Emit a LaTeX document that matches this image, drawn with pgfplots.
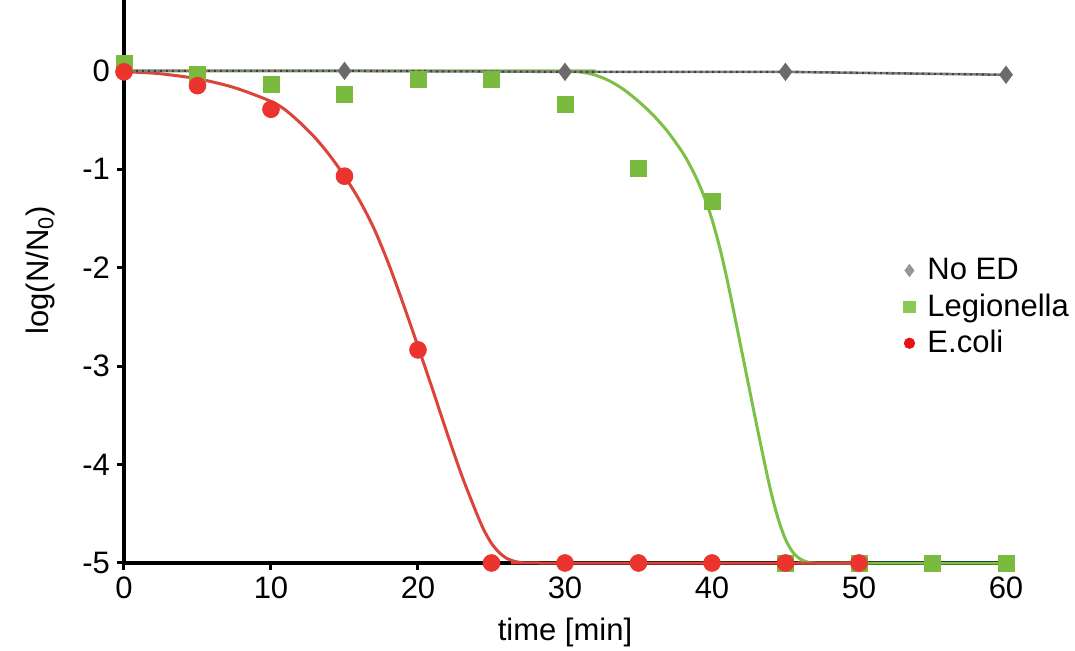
\documentclass[border=0pt]{standalone}
\usepackage{fontspec}
\setmainfont{Liberation Sans}
\usepackage{pgfplots}
\pgfplotsset{compat=1.18}

\definecolor{ecoliM}{RGB}{236,52,46}
\definecolor{ecoliL}{RGB}{218,68,58}
\definecolor{legioM}{RGB}{122,186,62}
\definecolor{legioL}{RGB}{124,192,72}
\definecolor{noedM}{RGB}{108,106,106}
\definecolor{noedL}{RGB}{128,126,126}
\definecolor{legGray}{RGB}{150,150,150}
\definecolor{legGreen}{RGB}{140,200,84}
\definecolor{legRed}{RGB}{232,18,18}

\newcommand{\chartfont}{\fontsize{15.5}{18}\selectfont}

\begin{document}
\begin{tikzpicture}
\begin{axis}[
  scale only axis,
  width=441pt, height=281.5pt,
  xmin=0, xmax=60, ymin=-5, ymax=0.72,
  axis x line=bottom, axis y line=left,
  axis line style={-, line width=2pt, black},
  xtick={0,10,...,60}, ytick={-5,-4,...,0},
  tick align=outside, major tick length=3.5pt,
  tick style={line width=1.5pt, black},
  /pgf/number format/assume math mode=true,
  tick label style={font=\chartfont},
  xlabel={time [min]},
  ylabel={log(N/N\textsubscript{0})},
  label style={font=\chartfont},
  xlabel style={at={(axis description cs:0.5,-0.1226)}, anchor=center},
  ylabel style={at={(axis description cs:-0.0952,0.52)}, anchor=center},
  clip=false,
  legend style={draw=none, fill=none, at={(axis cs:53.0,-1.86)}, anchor=north west,
    font=\chartfont, row sep=1.6pt, inner sep=0pt},
  legend cell align=left,
  legend image code/.code={\draw[#1] plot coordinates {(0pt,0pt)};
    \path[draw=none, fill=none] (-3pt,0pt) -- (7pt,0pt);},
]

% fitted inactivation curve, Legionella
\addplot[forget plot, legioL, line width=1.5pt, smooth] coordinates {
  (0,0) (30,0) (31,-0.01) (32,-0.04) (33,-0.10) (34,-0.19) (35,-0.31)
  (36,-0.45) (37,-0.62) (38,-0.83) (38.5,-0.96) (39,-1.11) (39.5,-1.29)
  (40,-1.51) (40.5,-1.78) (41,-2.10) (41.5,-2.46) (42,-2.83) (42.5,-3.20)
  (43,-3.57) (43.5,-3.93) (44,-4.27) (44.5,-4.55) (45,-4.76) (45.5,-4.89)
  (46,-4.96) (46.5,-4.99) (47,-5) (60,-5)};

% fitted inactivation curve, E. coli
\addplot[forget plot, ecoliL, line width=1.5pt, smooth] coordinates {
  (0,-0.01) (1,-0.015) (2.5,-0.03) (5,-0.08) (7.5,-0.17) (10,-0.31)
  (11,-0.40) (12,-0.53) (13,-0.68) (14,-0.86) (15,-1.07) (16,-1.31)
  (17,-1.60) (18,-1.96) (19,-2.37) (20,-2.80) (21,-3.24) (22,-3.69)
  (23,-4.12) (24,-4.50) (24.5,-4.67) (25,-4.80) (25.5,-4.89) (26,-4.95)
  (26.5,-4.98) (27,-4.995) (28,-5) (50,-5)};

% control without electrical discharge
\addplot[forget plot, noedL, line width=1.3pt] coordinates {
  (0,0) (15,0) (30,-0.01) (45,-0.01) (60,-0.04)};
\addplot[forget plot, black!75, line width=1pt, dotted,
  mark=diamond*, mark size=3.8pt, mark options={solid, fill=noedM, draw=noedM}]
  coordinates {(0,0) (15,0) (30,-0.01) (45,-0.01) (60,-0.04)};

% measured Legionella
\addplot[forget plot, only marks, mark=square*, mark size=4pt,
  mark options={fill=legioM, draw=legioM}] coordinates {
  (0,0.08) (5,-0.04) (10,-0.14) (15,-0.24) (20,-0.085) (25,-0.09)
  (30,-0.345) (35,-0.99) (40,-1.33) (45,-5) (50,-5) (55,-5) (60,-5)};

% measured E. coli
\addplot[forget plot, only marks, mark=*, mark size=4.2pt,
  mark options={fill=ecoliM, draw=ecoliM}] coordinates {
  (0,-0.01) (5,-0.15) (10,-0.39) (15,-1.07) (20,-2.835) (25,-5)
  (30,-5) (35,-5) (40,-5) (45,-5) (50,-5)};

\addlegendimage{only marks, mark=diamond*, mark size=3pt, legGray, mark options={fill=legGray, draw=legGray}}
\addlegendentry{No ED}
\addlegendimage{only marks, mark=square*, mark size=2.8pt, legGreen, mark options={fill=legGreen, draw=legGreen}}
\addlegendentry{Legionella}
\addlegendimage{only marks, mark=*, mark size=2.6pt, legRed, mark options={fill=legRed, draw=legRed}}
\addlegendentry{E.coli}
\end{axis}
\pgfresetboundingbox
\path (-62pt,-44pt) rectangle (475.5pt,281.5pt);
\end{tikzpicture}
\end{document}
